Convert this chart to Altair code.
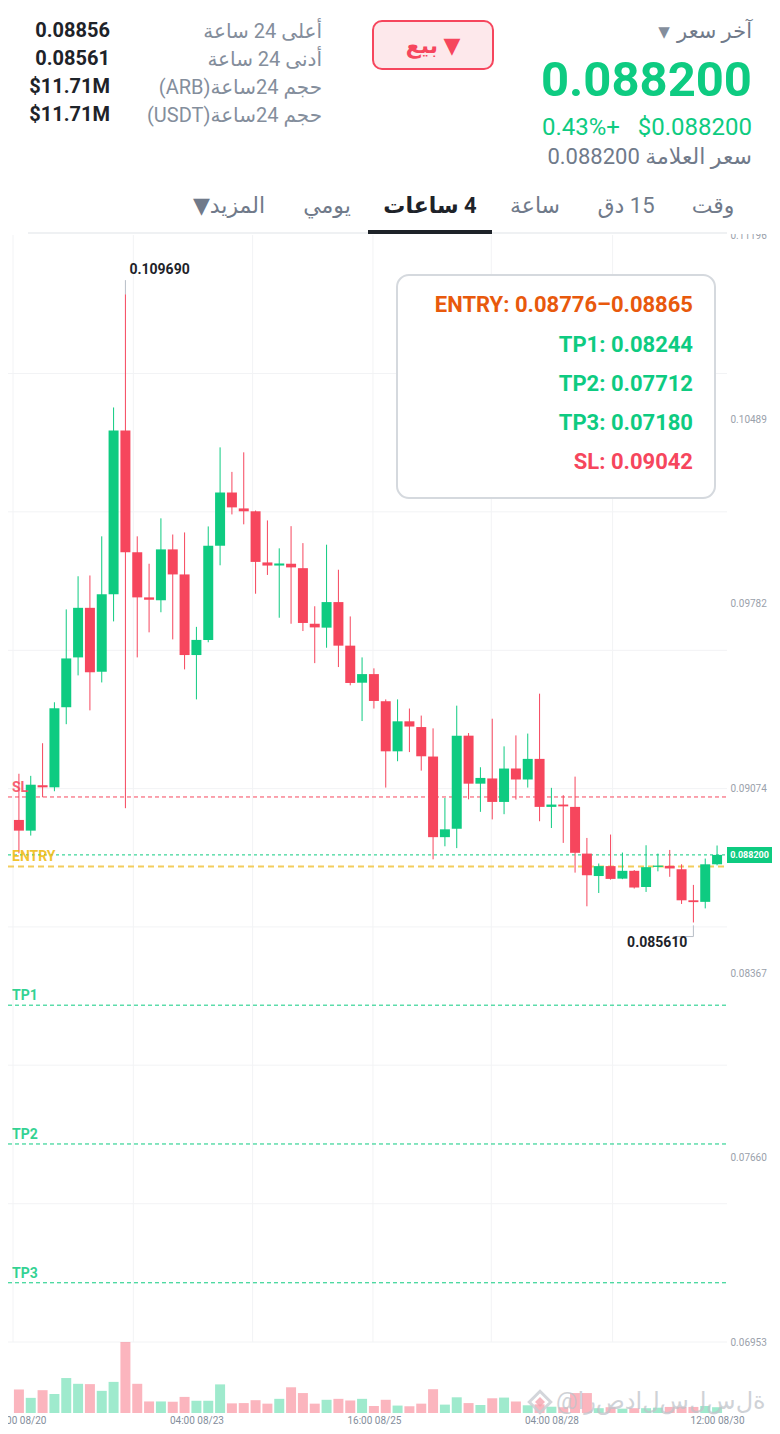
import altair as alt
import pandas as pd

# ---------------- data ----------------
opens = [0.08954, 0.08913, 0.09087, 0.09079, 0.09386, 0.09577, 0.09767, 0.09522, 0.09819, 0.10447,
         0.09980, 0.09807, 0.09796, 0.09991, 0.09895, 0.09586, 0.09644, 0.10005, 0.10209, 0.10148,
         0.10137, 0.09941, 0.09929, 0.09936, 0.09919, 0.09706, 0.09691, 0.09789, 0.09622, 0.09480,
         0.09513, 0.09409, 0.09217, 0.09332, 0.09310, 0.09197, 0.08888, 0.08920, 0.09277, 0.09093,
         0.09113, 0.09023, 0.09151, 0.09109, 0.09188, 0.09004, 0.09013, 0.09004, 0.08825, 0.08739,
         0.08777, 0.08729, 0.08759, 0.08697, 0.08774, 0.08778, 0.08765, 0.08646, 0.08640, 0.08784]
highs = [0.09131, 0.09123, 0.09248, 0.09405, 0.09761, 0.09888, 0.09891, 0.10041, 0.10535, 0.10969,
         0.10041, 0.09936, 0.10110, 0.10048, 0.10056, 0.09694, 0.10079, 0.10382, 0.10288, 0.10363,
         0.10140, 0.10102, 0.09995, 0.10080, 0.10015, 0.09773, 0.10009, 0.09913, 0.09734, 0.09577,
         0.09535, 0.09416, 0.09416, 0.09381, 0.09354, 0.09305, 0.09038, 0.09392, 0.09287, 0.09156,
         0.09342, 0.09236, 0.09278, 0.09285, 0.09438, 0.09077, 0.09049, 0.09120, 0.08885, 0.08787,
         0.08898, 0.08829, 0.08762, 0.08857, 0.08825, 0.08839, 0.08784, 0.08705, 0.08806, 0.08856]
lows = [0.08826, 0.08894, 0.09041, 0.09064, 0.09321, 0.09508, 0.09374, 0.09481, 0.09715, 0.08999,
        0.09577, 0.09673, 0.09750, 0.09646, 0.09531, 0.09416, 0.09635, 0.09930, 0.10125, 0.10087,
        0.09821, 0.09893, 0.09729, 0.09706, 0.09678, 0.09555, 0.09614, 0.09540, 0.09470, 0.09333,
        0.09381, 0.09078, 0.09179, 0.09214, 0.09143, 0.08803, 0.08853, 0.08846, 0.09033, 0.08985,
        0.08956, 0.08976, 0.09032, 0.09078, 0.08949, 0.08923, 0.08866, 0.08752, 0.08623, 0.08674,
        0.08725, 0.08727, 0.08691, 0.08678, 0.08757, 0.08736, 0.08632, 0.08561, 0.08615, 0.08780]
closes = [0.08913, 0.09089, 0.09079, 0.09382, 0.09573, 0.09767, 0.09520, 0.09819, 0.10447, 0.09980,
          0.09807, 0.09798, 0.09991, 0.09895, 0.09586, 0.09644, 0.10005, 0.10209, 0.10152, 0.10137,
          0.09943, 0.09929, 0.09937, 0.09922, 0.09709, 0.09692, 0.09789, 0.09622, 0.09479, 0.09513,
          0.09410, 0.09217, 0.09332, 0.09312, 0.09198, 0.08888, 0.08918, 0.09277, 0.09093, 0.09115,
          0.09023, 0.09151, 0.09109, 0.09188, 0.09004, 0.09013, 0.09006, 0.08828, 0.08742, 0.08777,
          0.08728, 0.08759, 0.08695, 0.08773, 0.08779, 0.08768, 0.08646, 0.08639, 0.08784, 0.08820]
volumes = [90.3, 58.1, 87.7, 72.9, 134.3, 112.1, 111.0, 85.1, 119.5, 272.7,
           112.1, 44.4, 44.4, 43.3, 61.8, 47.0, 47.0, 109.9, 37.0, 38.1,
           49.2, 35.9, 54.4, 98.8, 76.6, 35.9, 50.7, 54.4, 48.1, 54.4,
           27.0, 50.7, 28.5, 25.9, 35.9, 91.4, 32.2, 60.3, 38.1, 30.7,
           56.6, 59.2, 44.4, 29.6, 33.3, 24.1, 22.2, 76.6, 76.6, 18.5,
           22.2, 16.7, 18.5, 18.5, 20.4, 23.3, 23.3, 23.3, 27.0, 22.2]

x_label_idx = [0, 15, 30, 45, 59]
x_label_txt = ["16:00 08/20", "04:00 08/23", "16:00 08/25", "04:00 08/28", "12:00 08/30"]
y_label_vals = [0.11196, 0.10489, 0.09782, 0.09074, 0.08367, 0.07660, 0.06953]
hgrid_vals = [0.06953, 0.07483, 0.08014, 0.08544, 0.09074, 0.09604, 0.10135, 0.10665]
vgrid_idx = [-0.5, 9.67, 19.75, 29.92, 39.92, 50.17]

level_names = ["SL", "ENTRY", "TP1", "TP2", "TP3"]
level_prices = [0.09042, 0.08776, 0.08244, 0.07712, 0.07180]
entry_hi = 0.08865
last_price = 0.08820

head_labels = ["أعلى 24 ساعة", "أدنى 24 ساعة", "حجم 24ساعة(ARB)", "حجم 24ساعة(USDT)"]
vol24_text = ["$11.71M", "$11.71M"]
tabs = ["وقت", "15 دق", "ساعة", "4 ساعات", "يومي", "المزيد▼"]
selected_tab = "4 ساعات"
change_pct = "0.43%+"
change_abs = "$0.088200"
last_label = "آخر سعر"

# ---------------- styles / layout ----------------
GREEN = "#0ecb81"
RED = "#f6465d"
DARK = "#1e2329"
GRAY = "#707a8a"
FONT = "Roboto, 'DejaVu Sans', sans-serif"
RLE, PDF = "\u202b", "\u202c"
NBSP = "\u00a0"

W = 719            # plot width
VOL_PX = 71        # volume panel height
PRICE_PX = 1107    # price panel height
H = PRICE_PX + VOL_PX
STEP = 12          # candle step in px
P_MAX = y_label_vals[0]
P_MIN = y_label_vals[-1] - VOL_PX * (y_label_vals[0] - y_label_vals[-1]) / PRICE_PX

df = pd.DataFrame({"i": list(range(len(opens))), "o": opens, "h": highs, "l": lows,
                   "c": closes, "v": volumes})
df["dir"] = ["up" if c >= o else "down" for o, c in zip(opens, closes)]

xscale = alt.Scale(domain=[-0.5, W / STEP - 0.5], nice=False, zero=False)
pscale = alt.Scale(domain=[P_MIN, P_MAX], nice=False, zero=False)
cscale = alt.Scale(domain=["up", "down"], range=[GREEN, RED])

lab_expr = " : ".join(f"datum.value == {i} ? '{t}'" for i, t in zip(x_label_idx, x_label_txt)) + " : ''"
xaxis = alt.Axis(values=x_label_idx, labelExpr=lab_expr, title=None, grid=False, ticks=False,
                 domain=False, labelFlush=False, labelOverlap=False, labelColor="#848e9c",
                 labelFontSize=10, labelFont=FONT, labelPadding=2)
yaxis = alt.Axis(orient="right", values=y_label_vals, format=".5f", title=None, grid=False,
                 ticks=False, domain=False, labelColor="#9aa1ab", labelFontSize=10,
                 labelPadding=3, labelOverlap=False, labelFont=FONT)


def X(field):
    return alt.X(field, scale=xscale, axis=xaxis)


def Y(field):
    return alt.Y(field, scale=pscale, axis=yaxis)


def one(**kw):
    return alt.Chart(pd.DataFrame([kw]))


def txt(s, x, y, size, color, align="right", weight="normal", opacity=1.0):
    return one(t=s).mark_text(align=align, baseline="middle", fontSize=size, fontWeight=weight,
                              color=color, font=FONT, opacity=opacity).encode(
        x=alt.value(x), y=alt.value(y), text="t:N")


def rtl(s):
    return RLE + s + PDF


# ---------------- price panel ----------------
hgrid = alt.Chart(pd.DataFrame({"p": hgrid_vals})).mark_rule(color="#f2f3f5", strokeWidth=1).encode(
    y=Y("p:Q"), x=alt.value(0), x2=alt.value(W))
vgrid = alt.Chart(pd.DataFrame({"g": vgrid_idx})).mark_rule(color="#f2f3f5", strokeWidth=1).encode(
    x=X("g:Q"), y=alt.value(0), y2=alt.value(PRICE_PX))

level_color = {"SL": RED, "ENTRY": "#f3cd5c", "TP1": GREEN, "TP2": GREEN, "TP3": GREEN}
level_lab_color = {"SL": RED, "ENTRY": "#f0b90b", "TP1": GREEN, "TP2": GREEN, "TP3": GREEN}
level_dash = {"SL": [4, 3], "ENTRY": [6, 4], "TP1": [4, 3], "TP2": [4, 3], "TP3": [4, 3]}
level_width = {"SL": 1, "ENTRY": 2, "TP1": 1, "TP2": 1, "TP3": 1}

level_layers = []
for name, p in zip(level_names, level_prices):
    level_layers.append(one(p=p).mark_rule(color=level_color[name], strokeDash=level_dash[name],
                                           strokeWidth=level_width[name]).encode(
        y=Y("p:Q"), x=alt.value(0), x2=alt.value(W)))
cur_line = one(p=last_price).mark_rule(color=GREEN, strokeDash=[3, 3], strokeWidth=1).encode(
    y=Y("p:Q"), x=alt.value(0), x2=alt.value(W))

label_layers = []
for name, p in zip(level_names, level_prices):
    label_layers.append(one(p=p, t=name).mark_text(
        align="left", baseline="middle", dy=-9, fontSize=14, fontWeight="bold", font=FONT,
        color=level_lab_color[name], opacity=0.85).encode(y=Y("p:Q"), x=alt.value(4), text="t:N"))

base = alt.Chart(df)
wicks = base.mark_rule(strokeWidth=1).encode(
    x=X("i:Q"), y=Y("l:Q"), y2="h:Q", color=alt.Color("dir:N", scale=cscale, legend=None))
bodies = base.mark_bar(size=10).encode(
    x=X("i:Q"), y=Y("o:Q"), y2="c:Q", color=alt.Color("dir:N", scale=cscale, legend=None))

# high / low annotations
hi_i = highs.index(max(highs))
lo_i = lows.index(min(lows))
LEAD = 0.00054
hi_lead = one(i=hi_i, a=highs[hi_i], b=highs[hi_i] + LEAD).mark_rule(color="#b7bdc6").encode(
    x=X("i:Q"), y=Y("a:Q"), y2="b:Q")
hi_text = one(i=hi_i, p=highs[hi_i], t=f"{highs[hi_i]:.6f}").mark_text(
    align="left", baseline="middle", dx=4, dy=-24, fontSize=14, fontWeight="bold", color=DARK,
    font=FONT).encode(x=X("i:Q"), y=Y("p:Q"), text="t:N")
lo_lead_v = one(i=lo_i, a=lows[lo_i] - 0.00011, b=lows[lo_i] - LEAD).mark_rule(color="#b7bdc6").encode(
    x=X("i:Q"), y=Y("a:Q"), y2="b:Q")
lo_lead_h = one(i=lo_i, j=lo_i - 1.7, p=lows[lo_i] - LEAD).mark_rule(color="#b7bdc6").encode(
    x=X("i:Q"), x2="j:Q", y=Y("p:Q"))
lo_text = one(i=lo_i, p=lows[lo_i], t=f"{lows[lo_i]:.6f}").mark_text(
    align="right", baseline="middle", dx=-6, dy=21, fontSize=14, fontWeight="bold", color=DARK,
    font=FONT).encode(x=X("i:Q"), y=Y("p:Q"), text="t:N")

# last price tag
TAG_W, TAG_H = 45, 16
r = TAG_H / TAG_W
tag_shape = f"M-1,-{r:.4f}L1,-{r:.4f}L1,{r:.4f}L-1,{r:.4f}Z"
cur_tag = one(p=last_price).mark_point(shape=tag_shape, size=TAG_W * TAG_W, filled=True, fill=GREEN,
                                        opacity=1, strokeWidth=0).encode(
    y=Y("p:Q"), x=alt.value(W + TAG_W / 2))
cur_text = one(p=last_price, t=f"{last_price:.6f}").mark_text(
    align="center", baseline="middle", fontSize=9, fontWeight="bold", color="white",
    font=FONT).encode(y=Y("p:Q"), x=alt.value(W + TAG_W / 2), text="t:N")

# info box
box = one(a=0).mark_rect(cornerRadius=12, fill="white", stroke="#d5d9de", strokeWidth=2).encode(
    x=alt.value(389), x2=alt.value(707), y=alt.value(40), y2=alt.value(263))
lp = dict(zip(level_names, level_prices))
box_lines = [f"ENTRY: {lp['ENTRY']:.5f}–{entry_hi:.5f}", f"TP1: {lp['TP1']:.5f}",
             f"TP2: {lp['TP2']:.5f}", f"TP3: {lp['TP3']:.5f}", f"SL: {lp['SL']:.5f}"]
box_colors = ["#e8590c", GREEN, GREEN, GREEN, RED]
box_y = [70, 110, 149, 188, 227]
box_texts = [txt(s, 685, yy, 22, col, weight="bold") for s, col, yy in zip(box_lines, box_colors, box_y)]

price = alt.layer(hgrid, vgrid, *level_layers, cur_line, wicks, bodies, *label_layers,
                  hi_lead, hi_text, lo_lead_v, lo_lead_h, lo_text, cur_tag, cur_text, box, *box_texts)

# ---------------- volume panel ----------------
vscale = alt.Scale(domain=[0, max(volumes) * H / VOL_PX], nice=False, zero=True)
vol = base.mark_bar(size=10, opacity=0.4).encode(
    x=X("i:Q"), y=alt.Y("v:Q", scale=vscale, axis=None),
    color=alt.Color("dir:N", scale=cscale, legend=None))

# watermark
wm_chars = "@" + "\ufe8d\ufead\ufeb9\ufea9" + "\ufe8d\ufedd\ufeb1\ufedd\ufeb1\ufedd\ufe93"
WM_Y = PRICE_PX + 60
watermark = txt("\u202d" + wm_chars + "\u202c", 548, WM_Y, 24, "#bfc4ca", align="left", opacity=0.75)
logo_outer = one(a=0).mark_point(shape="diamond", size=460, filled=False, stroke="#c9cdd3",
                                  strokeWidth=3, opacity=0.8).encode(x=alt.value(532), y=alt.value(WM_Y))
logo_inner = one(a=0).mark_point(shape="diamond", size=100, filled=True, fill="#f4a3ae",
                                  opacity=0.8).encode(x=alt.value(532), y=alt.value(WM_Y))

# ---------------- header ----------------
head = []
head.append(txt(rtl(last_label), 744, -203, 21, GRAY))
head.append(txt("▼", 656, -203, 15, "#848e9c", align="center"))
head.append(txt(f"{last_price:.6f}", 744, -154, 49, GREEN, weight="bold"))
head.append(txt(change_pct + NBSP * 3 + change_abs, 744, -107, 24, GREEN))
head.append(txt(rtl(f"سعر العلامة {last_price:.6f}"), 744, -78, 22, GRAY))
head.append(one(a=0).mark_rect(cornerRadius=9, fill="#fde8eb", stroke=RED, strokeWidth=2).encode(
    x=alt.value(365), x2=alt.value(485), y=alt.value(-214), y2=alt.value(-166)))
head.append(txt(rtl("▼ بيع"), 425, -189, 22, RED, align="center", weight="bold"))

hi24 = max(highs[-6:])
lo24 = min(lows[-6:])
head_vals = [f"{hi24:.5f}", f"{lo24:.5f}"] + vol24_text
row_y = [-203, -175, -147, -119]
for lab, val, yy in zip(head_labels, head_vals, row_y):
    head.append(txt(rtl(lab), 314, yy, 20, "#848e9c"))
    head.append(txt(val, 102, yy - 1, 20, DARK, weight="bold"))

tab_x = [705, 618, 527, 422, 319, 221]
for t, xx in zip(tabs, tab_x):
    sel = t == selected_tab
    head.append(txt(rtl(t), xx, -29, 22, DARK if sel else GRAY, align="center",
                    weight="bold" if sel else "normal"))

cover = one(a=0).mark_rect(fill="white").encode(
    x=alt.value(719), x2=alt.value(764), y=alt.value(-14), y2=alt.value(-1))
divider = one(a=0).mark_rule(color="#eaecef", strokeWidth=1.5).encode(
    x=alt.value(20), x2=alt.value(719), y=alt.value(-2))
underline = one(a=0).mark_rect(fill=DARK).encode(
    x=alt.value(360), x2=alt.value(484), y=alt.value(-5), y2=alt.value(-1))

chart = alt.layer(price, vol, watermark, logo_outer, logo_inner, *head, cover, divider, underline
                  ).resolve_scale(y="independent").properties(
    width=W, height=H,
    padding={"left": 0, "top": 227, "right": 45, "bottom": 1418 - 227 - H},
    autosize=alt.AutoSizeParams(type="none"),
    background="white",
).configure_view(stroke=None)

chart.save("out.html", embed_options={"renderer": "svg", "actions": False})
